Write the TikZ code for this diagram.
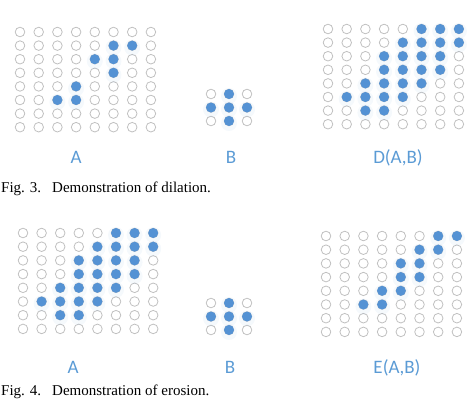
\documentclass[tikz,border=0pt]{standalone}
\usepackage{fontspec}
\setmainfont{Liberation Serif}
\newfontfamily\carlito{Carlito}
\usepackage{tikz}
\definecolor{dotgray}{RGB}{192,192,192}
\definecolor{dotblue}{RGB}{84,146,212}
\definecolor{lblblue}{RGB}{91,155,213}

% grid of dots: name, x0, y0, dx, dy, last col, last row, filled cells r/c
\newcommand{\dotgrid}[8]{%
  \foreach \r in {0,...,#7}
    \foreach \c in {0,...,#6}
      \node[dot] (#1-\r-\c) at ({#2+#4*\c},{#3+#5*\r}) {};
  \foreach \r/\c in {#8} {
    \node[halo] at (#1-\r-\c) {};
    \node[fdot] at (#1-\r-\c) {};
  }%
}

\begin{document}
\begin{tikzpicture}[x=1pt,y=-1pt,
  dot/.style={circle, draw=dotgray, line width=0.8pt, minimum size=9.6pt, inner sep=0pt},
  fdot/.style={circle, fill=dotblue, minimum size=10pt, inner sep=0pt},
  halo/.style={circle, fill=dotblue, opacity=0.06, minimum size=16pt, inner sep=0pt, yshift=-2pt},
  lbl/.style={anchor=base, text=lblblue, font=\carlito\fontsize{19}{19}\selectfont},
  figcap/.style={anchor=base west, inner sep=0pt, font=\fontsize{15}{15}\selectfont}
]
\useasboundingbox (0,0) rectangle (474,400);
\clip (0,0) rectangle (474,400);

% dilation
\dotgrid{a1}{20}{32}{18.7}{13.6}{7}{7}{1/5,1/6,2/4,2/5,3/5,4/3,5/2,5/3}
\dotgrid{b1}{211}{94}{18}{13.5}{2}{2}{0/1,1/0,1/1,1/2,2/1}
\dotgrid{d1}{328}{29}{18.7}{13.6}{7}{7}{0/5,0/6,0/7,1/4,1/5,1/6,1/7,2/3,2/4,2/5,2/6,3/3,3/4,3/5,3/6,4/2,4/3,4/4,4/5,5/1,5/2,5/3,5/4,6/2,6/3}

\node[lbl] (la1) at (76,163) {A};
\node[lbl] (lb1) at (231,163) {B};
\node[lbl] (ld1) at (398,163) {D(A,B)};
\node[figcap] (cap3) at (1,192) {Fig. 3.\hspace{11pt}Demonstration of dilation.};

% erosion
\dotgrid{a2}{23}{233}{18.6}{13.7}{7}{7}{0/5,0/6,0/7,1/4,1/5,1/6,1/7,2/3,2/4,2/5,2/6,3/3,3/4,3/5,3/6,4/2,4/3,4/4,4/5,5/1,5/2,5/3,5/4,6/2,6/3}
\dotgrid{b2}{211}{303}{18}{13.5}{2}{2}{0/1,1/0,1/1,1/2,2/1}
\dotgrid{e2}{326}{236}{18.7}{13.7}{7}{7}{0/6,0/7,1/5,1/6,2/4,2/5,3/4,3/5,4/3,4/4,5/2,5/3}

\node[lbl] (la2) at (73,373) {A};
\node[lbl] (lb2) at (230,373) {B};
\node[lbl] (le2) at (397,373) {E(A,B)};
\node[figcap] (cap4) at (1,395.5) {Fig. 4.\hspace{11pt}Demonstration of erosion.};

\end{tikzpicture}
\end{document}
